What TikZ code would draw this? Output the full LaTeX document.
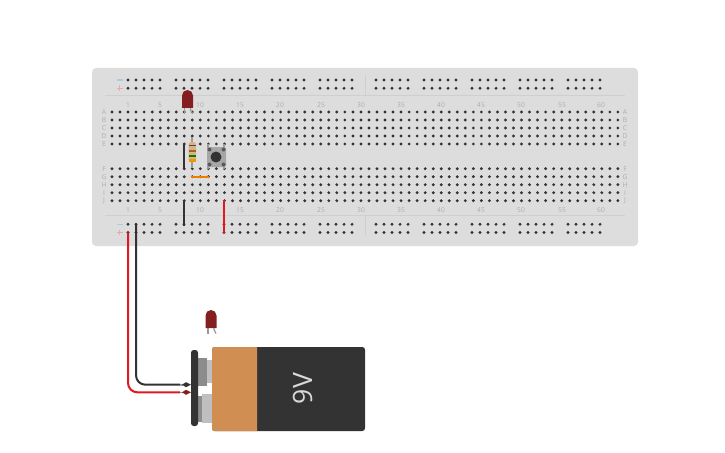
\documentclass[tikz,border=0pt]{standalone}
\usepackage{fontspec}
\setmainfont{Open Sans}
\definecolor{boardgray}{HTML}{DDDDDD}
\definecolor{holegray}{HTML}{333333}
\definecolor{linegray}{HTML}{CFCFCF}
\definecolor{labelgray}{HTML}{ADADAD}
\definecolor{wiredark}{HTML}{333333}
\definecolor{wirered}{HTML}{E3171E}
\definecolor{wireorange}{HTML}{EE7E00}
\definecolor{ledred}{HTML}{851F1F}
\definecolor{leadgray}{HTML}{9A9A9A}
\definecolor{battorange}{HTML}{D08E52}
\definecolor{signblue}{HTML}{AECBE0}
\definecolor{signred}{HTML}{EBA9A9}
\tikzset{
  wire/.style={line width=1.5pt},
  lead/.style={leadgray,line width=1pt},
  boardlabel/.style={labelgray,font=\fontsize{5}{6}\selectfont,inner sep=0pt},
  railsign/.style={line width=.9pt},
}
\newcommand{\ledbody}[2]{%
  \draw[lead] (#1-3,#2+9) -- (#1-3,#2+15);
  \draw[lead] (#1+3,#2+9) -- (#1+3,#2+11) -- (#1+5,#2+15);
  \fill[ledred] (#1-5.5,#2+9.5) -- (#1-5.5,#2-3) arc (180:360:5.5) -- (#1+5.5,#2+9.5) -- cycle; %dome
}
\begin{document}
\begin{tikzpicture}
[x=.75pt,y=-.75pt]
\useasboundingbox (0,0) rectangle (725,453);

\fill[boardgray,rounded corners=3] (92,68) rectangle (638,246); %board
\draw[linegray,line width=.5pt] (105,95.5) -- (625,95.5);
\draw[linegray,line width=.5pt] (105,215.5) -- (625,215.5);
\draw[linegray,line width=.5pt] (365,75) -- (365,95.5);
\draw[linegray,line width=.5pt] (365,215.5) -- (365,236);

% main rows
\foreach \y in {112,120,128,136,144,168.7,176.7,184.7,192.7,200.7}
  \foreach \c in {0,...,63}
    \fill[holegray] ({112+8.03*\c},\y) circle (1.6);

% power rails
\foreach \y in {80,88.3,224.3,232.5}
  \foreach \g in {128,176,224,272,320,376,424,472,520,568}
    \foreach \c in {0,...,4}
      \fill[holegray] ({\g+8.02*\c},\y) circle (1.6);

% column numbers
\foreach \n/\x in {1/128,5/160,10/200,15/240,20/280,25/321,30/361,35/401,40/441,45/481,50/521,55/562,60/601}{
  \node[boardlabel] (top\n) at (\x,105) {\n};
  \node[boardlabel] (bot\n) at (\x,210) {\n};
}
% row letters
\foreach \l/\y in {A/112,B/120,C/128,D/136,E/144,F/168.7,G/176.7,H/184.7,I/192.7,J/200.7}{
  \node[boardlabel] (left\l) at (104,\y) {\l};
  \node[boardlabel] (right\l) at (625,\y) {\l};
}
% rail signs
\draw[signblue,railsign] (117,80) -- (122.5,80);
\draw[signred,railsign] (117,88.3) -- (122.5,88.3);
\draw[signred,railsign] (119.7,85.5) -- (119.7,91.1);
\draw[signblue,railsign] (117,224.3) -- (122.5,224.3);
\draw[signred,railsign] (117,232.5) -- (122.5,232.5);
\draw[signred,railsign] (119.7,229.7) -- (119.7,235.3);

\ledbody{187.5}{98.5} %on board

% resistor
\draw[lead] (192,137) -- (192,168);
\fill[battorange!70!white,rounded corners=2] (188.5,142) rectangle (196,162);
\fill[black!70] (188.5,144.5) rectangle (196,145.3);
\fill[brown!80!black] (188.5,150) rectangle (196,152);
\fill[green!50!black] (188.5,154.5) rectangle (196,156.5);
\fill[wireorange!80!yellow] (188.5,158.5) rectangle (196,161.5);

% button
\draw[lead] (208,144) -- (208,148);
\draw[lead] (224,144) -- (224,148);
\draw[lead] (208,166) -- (208,169);
\draw[lead] (224,166) -- (224,169);
\fill[black!35,rounded corners=1] (207,147) rectangle (226,167);
\fill[wiredark] (216,157) circle (5.5);
\foreach \x in {209.5,223.5}
  \foreach \y in {149.5,164.5}
    \fill[black!65] (\x,\y) circle (2);

% wire ends
\coordinate (jumpA) at (184,144);
\coordinate (jumpB) at (184,169);
\coordinate (jumpC) at (191,176.7);
\coordinate (jumpD) at (209,176.7);
\coordinate (jumpE) at (184,200);
\coordinate (jumpF) at (184,226);
\coordinate (jumpG) at (224,200);
\coordinate (jumpH) at (224,233);
\coordinate (railneg) at (136,224);
\coordinate (railpos) at (128,232.5);
\coordinate (clipneg) at (180,384.7);
\coordinate (clippos) at (180,392.3);

\draw[wire,wiredark] (jumpA) -- (jumpB);
\draw[wire,wireorange] (jumpC) -- (jumpD);
\draw[wire,wiredark] (jumpE) -- (jumpF);
\draw[wire,wirered] (jumpG) -- (jumpH);
\draw[wire,wiredark,rounded corners=7] (railneg) |- (clipneg);
\draw[wire,wirered,rounded corners=7] (railpos) |- (clippos);

% clip tips
\fill[leadgray] (179.5,383.9) rectangle (183,385.5);
\fill[leadgray] (179.5,391.5) rectangle (183,393.1);
\fill[wiredark] (182,384.7) -- (186,382.2) -- (191,384.7) -- (186,387.2) -- cycle;
\fill[ledred] (182,392.3) -- (186,389.8) -- (191,392.3) -- (186,394.8) -- cycle;

\ledbody{211}{318.5} %loose

% battery
\fill[black!45] (198,358) rectangle (207,386);
\fill[black!25] (207,360) rectangle (212,383);
\fill[black!45] (198,396) rectangle (203,422);
\fill[black!25] (202,394) rectangle (212,423);
\fill[wiredark,rounded corners=2] (191,350) rectangle (198,426);
\fill[wiredark,rounded corners=2] (212,347) rectangle (365,431);
\fill[battorange,rounded corners=2] (257,347) -- (212,347) -- (212,431) [sharp corners] -- (257,431) -- cycle;
\node[white!85!black,rotate=90,font=\fontsize{20}{24}\selectfont,inner sep=0pt] (volts) at (302.5,388.5) {9V};

\end{tikzpicture}
\end{document}
